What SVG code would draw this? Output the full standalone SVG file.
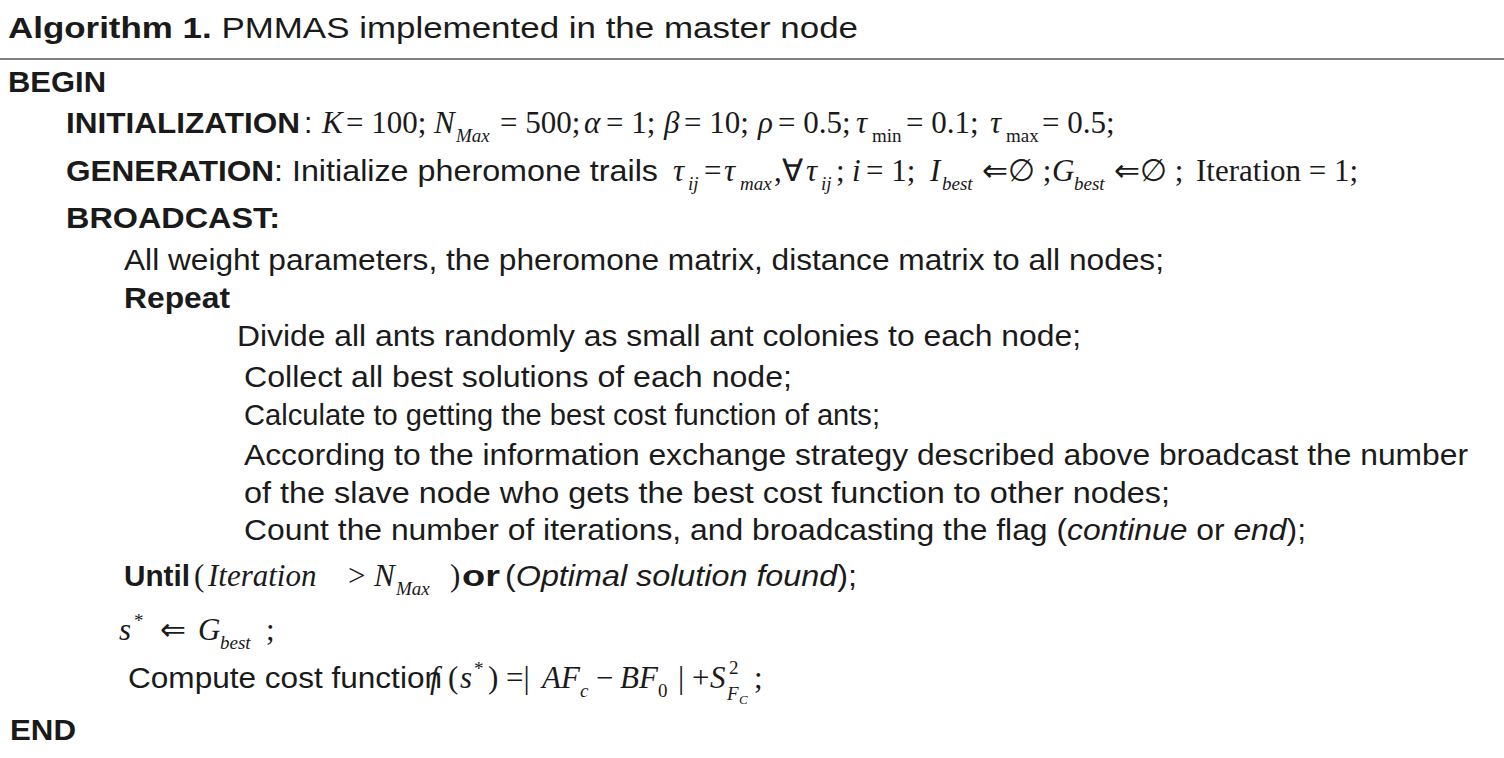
<svg xmlns="http://www.w3.org/2000/svg" width="1504" height="758" viewBox="0 0 1504 758">
<style>
text{font-family:"Liberation Sans",Arial,sans-serif;font-size:30px;fill:#1a1a1a}
.b{font-weight:bold}
.m{font-family:"Liberation Serif","Times New Roman",serif;font-style:italic;font-size:31px}
.r{font-family:"Liberation Serif","Times New Roman",serif;font-size:31px}
.s{font-family:"Liberation Serif","Times New Roman",serif;font-style:italic;font-size:19px}
.sr{font-family:"Liberation Serif","Times New Roman",serif;font-size:19px}
.i{font-style:italic}
</style>
<rect width="1504" height="758" fill="#fff"/>
<text x="8" y="38" textLength="850" lengthAdjust="spacingAndGlyphs"><tspan class="b">Algorithm 1.</tspan> PMMAS implemented in the master node</text>
<line x1="0" y1="59" x2="1504" y2="59" stroke="#555" stroke-width="1.5"/>
<text x="8" y="92" class="b" textLength="98" lengthAdjust="spacingAndGlyphs">BEGIN</text>
<g id="init">
<text x="66" y="133" class="b" textLength="234" lengthAdjust="spacingAndGlyphs">INITIALIZATION</text>
<text x="304" y="133">:</text>
<text x="322" y="133" class="m">K</text><text x="346" y="133" class="r">= 100;</text>
<text x="434" y="133" class="m">N</text><text x="456" y="142" class="s">Max</text><text x="500" y="133" class="r">= 500;</text>
<text x="584" y="133" class="m">α</text><text x="606" y="133" class="r">= 1;</text>
<text x="664" y="133" class="m">β</text><text x="684" y="133" class="r">= 10;</text>
<text x="758" y="133" class="m">ρ</text><text x="778" y="133" class="r">= 0.5;</text>
<text x="856" y="133" class="m">τ</text><text x="872" y="142" class="sr">min</text><text x="906" y="133" class="r">= 0.1;</text>
<text x="990" y="133" class="m">τ</text><text x="1006" y="142" class="sr">max</text><text x="1042" y="133" class="r">= 0.5;</text>
</g>
<g id="gen">
<text x="66" y="181" class="b" textLength="208" lengthAdjust="spacingAndGlyphs">GENERATION</text>
<text x="274" y="181" textLength="384" lengthAdjust="spacingAndGlyphs">: Initialize pheromone trails</text>
<text x="673" y="181" class="m">τ</text><text x="688" y="190" class="s">ij</text>
<text x="704" y="181" class="r">=</text><text x="724" y="181" class="m">τ</text><text x="740" y="190" class="s">max</text><text x="774" y="181" class="r">,∀</text>
<text x="806" y="181" class="m">τ</text><text x="821" y="190" class="s">ij</text><text x="836" y="181" class="r">;</text>
<text x="852" y="181" class="m">i</text><text x="866" y="181" class="r">= 1;</text>
<text x="930" y="181" class="m">I</text><text x="942" y="190" class="s">best</text><text x="982" y="181" class="r">⇐∅ ;</text>
<text x="1052" y="181" class="m">G</text><text x="1074" y="190" class="s">best</text><text x="1114" y="181" class="r">⇐∅ ;</text>
<text x="1196" y="181" class="r">Iteration = 1;</text>
</g>
<text x="66" y="228" class="b" textLength="214" lengthAdjust="spacingAndGlyphs">BROADCAST:</text>
<text x="124" y="270" textLength="1040" lengthAdjust="spacingAndGlyphs">All weight parameters, the pheromone matrix, distance matrix to all nodes;</text>
<text x="124" y="308" class="b" textLength="106" lengthAdjust="spacingAndGlyphs">Repeat</text>
<text x="237" y="346" textLength="844" lengthAdjust="spacingAndGlyphs">Divide all ants randomly as small ant colonies to each node;</text>
<text x="244" y="387" textLength="548" lengthAdjust="spacingAndGlyphs">Collect all best solutions of each node;</text>
<text x="244" y="425" textLength="636" lengthAdjust="spacingAndGlyphs">Calculate to getting the best cost function of ants;</text>
<text x="244" y="465" textLength="1224" lengthAdjust="spacingAndGlyphs">According to the information exchange strategy described above broadcast the number</text>
<text x="244" y="503" textLength="926" lengthAdjust="spacingAndGlyphs">of the slave node who gets the best cost function to other nodes;</text>
<text x="244" y="540" textLength="1062" lengthAdjust="spacingAndGlyphs">Count the number of iterations, and broadcasting the flag (<tspan class="i">continue</tspan> or <tspan class="i">end</tspan>);</text>
<g id="until">
<text x="124" y="586" class="b" textLength="66" lengthAdjust="spacingAndGlyphs">Until</text>
<text x="194" y="586" class="r">(</text><text x="208" y="586" class="m">Iteration</text>
<text x="348" y="586" class="r">&gt;</text><text x="374" y="586" class="m">N</text><text x="396" y="595" class="s">Max</text>
<text x="450" y="586" class="r">)</text>
<text x="462" y="586" class="b" textLength="38" lengthAdjust="spacingAndGlyphs">or</text>
<text x="505" y="586" textLength="352" lengthAdjust="spacingAndGlyphs">(<tspan class="i">Optimal solution found</tspan>);</text>
</g>
<g id="sstar">
<text x="119" y="640" class="m">s</text><text x="134" y="627" class="sr">*</text>
<text x="160" y="640" class="r">⇐</text><text x="198" y="640" class="m">G</text><text x="220" y="649" class="s">best</text><text x="266" y="640" class="r">;</text>
</g>
<g id="compute">
<text x="128" y="688" textLength="314" lengthAdjust="spacingAndGlyphs">Compute cost function</text>
<text x="430" y="688" class="m">f</text><text x="448" y="688" class="r">(</text><text x="460" y="688" class="m">s</text><text x="474" y="675" class="sr">*</text><text x="488" y="688" class="r">) =|</text>
<text x="542" y="688" class="m">AF</text><text x="580" y="697" class="s">c</text>
<text x="596" y="688" class="r">−</text><text x="620" y="688" class="m">BF</text><text x="658" y="697" class="sr">0</text>
<text x="678" y="688" class="r">| +</text><text x="710" y="688" class="m">S</text><text x="729" y="674" class="sr">2</text><text x="727" y="700" class="s">F</text><text x="739" y="704" class="s" style="font-size:13px">C</text>
<text x="754" y="688" class="r">;</text>
</g>
<text x="10" y="740" class="b" textLength="66" lengthAdjust="spacingAndGlyphs">END</text>
</svg>
